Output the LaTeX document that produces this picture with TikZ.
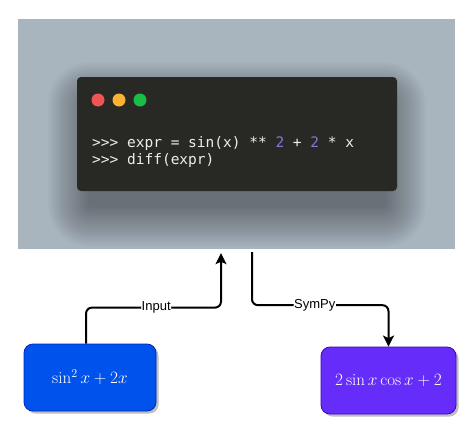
\documentclass[tikz,border=0pt]{standalone}
\usepackage{fontspec}
\newfontfamily\codefont[Ligatures=TeXOff]{DejaVu Sans Mono}
\newfontfamily\lblfont{Liberation Sans}
\usetikzlibrary{arrows.meta,calc,shadows}
\definecolor{bggray}{RGB}{168,180,190}
\definecolor{termbg}{RGB}{40,40,37}
\definecolor{codefg}{RGB}{238,238,232}
\definecolor{codenum}{RGB}{140,115,215}
\definecolor{dotred}{RGB}{240,85,85}
\definecolor{dotyellow}{RGB}{250,180,50}
\definecolor{dotgreen}{RGB}{25,190,70}
\definecolor{boxblue}{RGB}{0,82,236}
\definecolor{boxbluedk}{RGB}{0,40,190}
\definecolor{boxpurple}{RGB}{102,45,250}
\definecolor{boxpurpledk}{RGB}{60,0,200}
\tikzset{
  imgbox/.style={fill=bggray, inner sep=0pt, minimum width=437pt, minimum height=230pt},
  termbox/.style={fill=termbg, rounded corners=4pt, inner sep=0pt, minimum width=320pt, minimum height=114pt},
  wdot/.style={circle, inner sep=0pt, minimum size=13pt},
  codeblock/.style={anchor=north west, inner sep=0pt, align=left, text=codefg, font=\codefont\fontsize{14.5}{17}\selectfont},
  mbox/.style={rounded corners=9pt, line width=0.8pt, text=white, inner sep=0pt,
    font=\fontsize{17}{20}\selectfont,
    drop shadow={shadow xshift=2.5pt, shadow yshift=-2.5pt, opacity=0.25, fill=black}},
  conn/.style={draw=black, line width=2pt, rounded corners=6pt, -{Stealth[length=11pt,width=11pt,inset=2.5pt]}},
  lbl/.style={fill=white, inner sep=0.5pt, text=black, font=\lblfont\fontsize{13}{14}\selectfont},
}
\begin{document}
\begin{tikzpicture}[x=1pt,y=-1pt]
\useasboundingbox (0,0) rectangle (474,442);
\fill[white] (0,0) rectangle (474,442);
\node[imgbox] (img) at (236.5,134) {};
\begin{scope}
  \clip (18,19) rectangle (455,249);
  \foreach \i in {0,...,19}{
    \pgfmathsetmacro\d{\i*2.1}
    \fill[black,opacity=0.021,rounded corners=\d pt+2pt] (88-\d,102-\d) rectangle (386+\d,207+\d);
  }
\end{scope}
\node[termbox] (term) at (237,134) {};
\node[wdot, fill=dotred] (dr) at (98,100) {};
\node[wdot, fill=dotyellow] (dy) at (119,100) {};
\node[wdot, fill=dotgreen] (dg) at (140,100) {};
\node[codeblock] (code) at (92,136.5) {\textgreater\textgreater\textgreater{} expr = sin(x) ** \textcolor{codenum}{2} + \textcolor{codenum}{2} * x\\
\textgreater\textgreater\textgreater{} diff(expr)};

\node[mbox, fill=boxblue, draw=boxbluedk, minimum width=132pt, minimum height=67pt] (blue) at (90,377.5) {$\sin^2 x+2x$};
\node[mbox, fill=boxpurple, draw=boxpurpledk, minimum width=135pt, minimum height=67pt] (purple) at (388.5,380.5) {$2\sin x\cos x+2$};

\draw[conn] ([xshift=-4pt]blue.north) -- ++(0,-36) -| node[lbl,pos=0.26]{Input} ([xshift=-15.5pt,yshift=-4pt]img.south);
\draw[conn] ([xshift=15.5pt,yshift=-3pt]img.south) -- ++(0,53) -| node[lbl,pos=0.23]{SymPy} (purple.north);
\end{tikzpicture}
\end{document}
